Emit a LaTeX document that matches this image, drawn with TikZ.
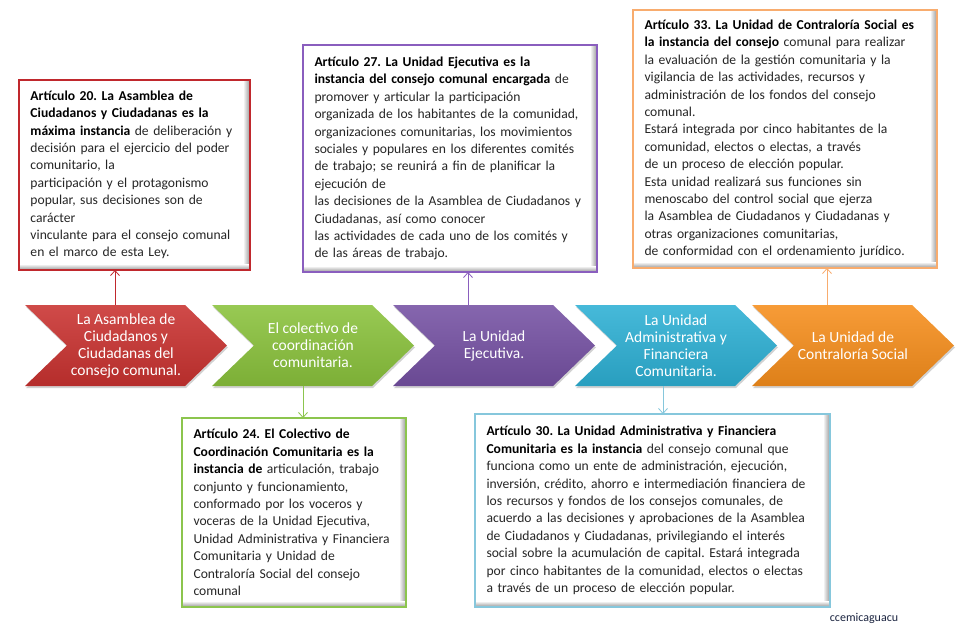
\documentclass[tikz,border=0pt]{standalone}
\usepackage{fontspec}
\setmainfont{Carlito}
\usetikzlibrary{shapes.symbols,arrows.meta,shadows}
\definecolor{rojo}{HTML}{C93230}
\definecolor{verde}{HTML}{8AC23C}
\definecolor{morado}{HTML}{7551A3}
\definecolor{celeste}{HTML}{2DB0D4}
\definecolor{naranja}{HTML}{F68E1C}
\definecolor{rojoborde}{HTML}{C0282D}
\definecolor{verdeborde}{HTML}{8CC54E}
\definecolor{moradoborde}{HTML}{8A5EBE}
\definecolor{celesteborde}{HTML}{86C7DC}
\definecolor{naranjaborde}{HTML}{F8AC6E}
\definecolor{marca}{HTML}{1B2440}
\newcommand{\negrita}[1]{{\bfseries\color{black}#1}}
\newcommand{\bisel}[2]{
  \shade[left color=white, right color=black!38] ([xshift=-7pt,yshift=-0.5pt]#1.north east) rectangle ([xshift=-0.5pt,yshift=0.5pt]#1.south east);
  \shade[top color=white, bottom color=black!38] ([xshift=0.5pt,yshift=6pt]#1.south west) rectangle ([xshift=-0.5pt,yshift=0.5pt]#1.south east);
  \draw[#2, line width=1.2pt] (#1.north west) rectangle (#1.south east);
}
\frenchspacing
\tikzset{
  chevron/.style={signal, signal to=east, signal from=west, signal pointer angle=88,
    minimum width=202pt, minimum height=81pt, inner sep=0pt, text=white, align=center,
    font=\fontsize{15.5}{17}\selectfont, top color=#1!88!white, bottom color=#1!90!black,
    drop shadow={shadow xshift=1pt, shadow yshift=-2pt, opacity=0.35}},
  articulo/.style={draw=#1, line width=1pt, fill=white, anchor=north west, align=left,
    inner xsep=11pt, inner ysep=0pt, text=black!85, font=\fontsize{13.6}{17.4}\selectfont},
  enlace/.style={draw=#1, line width=0.8pt, -{Straight Barb[length=5pt,width=9pt]}}
}
\begin{document}
\begin{tikzpicture}[x=1pt,y=-1pt]
  \fill[white] (0,0) rectangle (958,629);
  \useasboundingbox (0,0) rectangle (958,629);

  \node[chevron=rojo] (asamblea) at (126,345.5) {La Asamblea de\\Ciudadanos y\\Ciudadanas del\\consejo comunal.};
  \node[chevron=verde] (colectivo) at (313,345.5) {El colectivo de\\coordinación\\comunitaria.};
  \node[chevron=morado] (ejecutiva) at (494,345.5) {La Unidad\\Ejecutiva.};
  \node[chevron=celeste] (administrativa) at (676,345.5) {La Unidad\\Administrativa y\\Financiera\\Comunitaria.};
  \node[chevron=naranja] (contraloria) at (853,345.5) {La Unidad de\\Contraloría Social};

  \node[articulo=rojoborde, text width=208pt, minimum height=189pt] (art20) at (19,80)
    {\negrita{Artículo 20. La Asamblea de}\\
     \negrita{Ciudadanos y Ciudadanas es la}\\
     \negrita{máxima instancia} de deliberación y\\
     decisión para el ejercicio del poder\\
     comunitario, la\\
     participación y el protagonismo\\
     popular, sus decisiones son de\\
     carácter\\
     vinculante para el consejo comunal\\
     en el marco de esta Ley.};
  \node[articulo=moradoborde, text width=271pt, minimum height=226pt] (art27) at (303,45)
    {\negrita{Artículo 27. La Unidad Ejecutiva es la}\\
     \negrita{instancia del consejo comunal encargada} de\\
     promover y articular la participación\\
     organizada de los habitantes de la comunidad,\\
     organizaciones comunitarias, los movimientos\\
     sociales y populares en los diferentes comités\\
     de trabajo; se reunirá a fin de planificar la\\
     ejecución de\\
     las decisiones de la Asamblea de Ciudadanos y\\
     Ciudadanas, así como conocer\\
     las actividades de cada uno de los comités y\\
     de las áreas de trabajo.};
  \node[articulo=naranjaborde, text width=281pt, minimum height=257pt] (art33) at (633,10)
    {\negrita{Artículo 33. La Unidad de Contraloría Social es}\\
     \negrita{la instancia del consejo} comunal para realizar\\
     la evaluación de la gestión comunitaria y la\\
     vigilancia de las actividades, recursos y\\
     administración de los fondos del consejo\\
     comunal.\\
     Estará integrada por cinco habitantes de la\\
     comunidad, electos o electas, a través\\
     de un proceso de elección popular.\\
     Esta unidad realizará sus funciones sin\\
     menoscabo del control social que ejerza\\
     la Asamblea de Ciudadanos y Ciudadanas y\\
     otras organizaciones comunitarias,\\
     de conformidad con el ordenamiento jurídico.};
  \node[articulo=verdeborde, text width=201pt, minimum height=188pt] (art24) at (182,418)
    {\negrita{Artículo 24. El Colectivo de}\\
     \negrita{Coordinación Comunitaria es la}\\
     \negrita{instancia de} articulación, trabajo\\
     conjunto y funcionamiento,\\
     conformado por los voceros y\\
     voceras de la Unidad Ejecutiva,\\
     Unidad Administrativa y Financiera\\
     Comunitaria y Unidad de\\
     Contraloría Social del consejo\\
     comunal};
  \node[articulo=celesteborde, text width=332pt, minimum height=192pt] (art30) at (475,414)
    {\negrita{Artículo 30. La Unidad Administrativa y Financiera}\\
     \negrita{Comunitaria es la instancia} del consejo comunal que\\
     funciona como un ente de administración, ejecución,\\
     inversión, crédito, ahorro e intermediación financiera de\\
     los recursos y fondos de los consejos comunales, de\\
     acuerdo a las decisiones y aprobaciones de la Asamblea\\
     de Ciudadanos y Ciudadanas, privilegiando el interés\\
     social sobre la acumulación de capital. Estará integrada\\
     por cinco habitantes de la comunidad, electos o electas\\
     a través de un proceso de elección popular.};
  \foreach \caja/\tono in {art20/rojoborde,art27/moradoborde,art33/naranjaborde,art24/verdeborde,art30/celesteborde} {\bisel{\caja}{\tono}}

  \draw[enlace=rojoborde] ([xshift=-11pt]asamblea.north) -- ([xshift=-11pt]asamblea.north |- art20.south);
  \draw[enlace=moradoborde] ([xshift=-26pt]ejecutiva.north) -- ([xshift=-26pt]ejecutiva.north |- art27.south);
  \draw[enlace=naranjaborde] ([xshift=-26pt]contraloria.north) -- ([xshift=-26pt]contraloria.north |- art33.south);
  \draw[enlace=verdeborde] ([xshift=-10pt]colectivo.south) -- ([xshift=-10pt]colectivo.south |- art24.north);
  \draw[enlace=celesteborde] ([xshift=-13pt]administrativa.south) -- ([xshift=-13pt]administrativa.south |- art30.north);

  \node[text=marca, font=\fontsize{12}{14}\selectfont] (firma) at (864,618) {ccemicaguacu};
\end{tikzpicture}
\end{document}
